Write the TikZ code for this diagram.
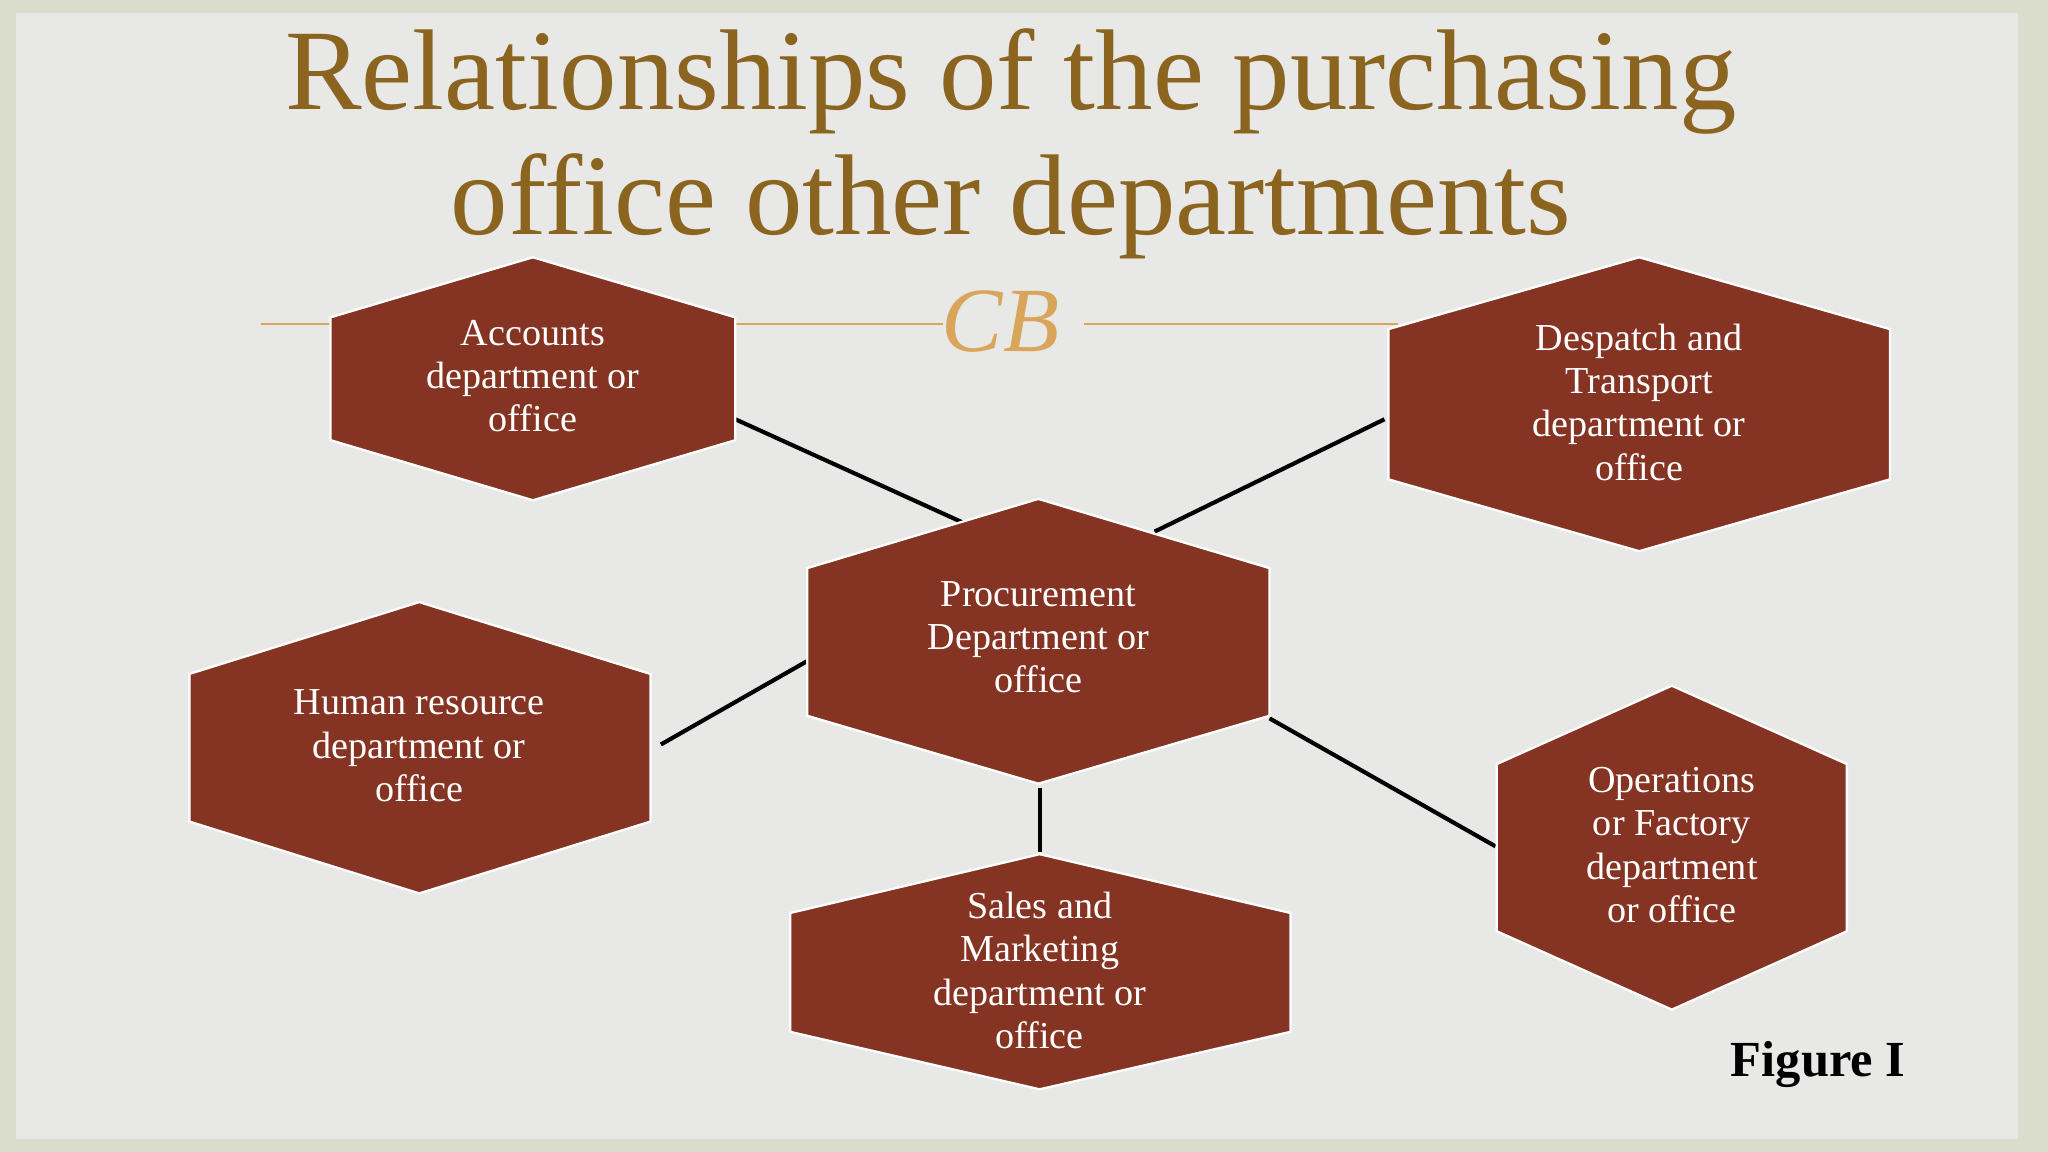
\documentclass[tikz,border=0pt]{standalone}
\usepackage{fontspec}
\setmainfont{Liberation Serif}
\definecolor{hexred}{HTML}{853322}
\definecolor{gold}{HTML}{8B6420}
\definecolor{lgold}{HTML}{D9A55A}
\definecolor{bgc}{HTML}{E8E8E6}
\definecolor{edge}{HTML}{DADDCB}
\tikzset{
 hex/.style={fill=hexred,draw=white,line width=0.5pt},
 lab/.style={text=white,align=center,font=\fontsize{8.3}{9.4}\selectfont},
 conn/.style={draw=black,line width=0.9pt}
}
\begin{document}
\begin{tikzpicture}[x=0.01cm,y=-0.01cm]
\fill[edge] (0,0) rectangle (1568,882);
\fill[bgc] (12,10) rectangle (1545,872);
\useasboundingbox (0,0) rectangle (1568,882);
% title
\node[text=gold,font=\fontsize{25}{30}\selectfont] (t1) at (774,62) {Relationships of the purchasing};
\node[text=gold,font=\fontsize{25}{30}\selectfont] (t2) at (774,158) {office other departments};
% decorative line
\draw[lgold,line width=0.6pt] (200,248) -- (722,248);
\draw[lgold,line width=0.6pt] (830,248) -- (1070,248);
\node[text=lgold,font=\fontsize{20}{24}\itshape\selectfont] (orn) at (766,246) {\textit{CB}};
% connectors coordinates
\coordinate (a1) at (563,321); \coordinate (p1) at (737,400);
\coordinate (d1) at (1060,321); \coordinate (p2) at (884,407);
\coordinate (h1) at (506,570); \coordinate (p3) at (620,505);
\coordinate (s1) at (796,652); \coordinate (p4) at (796,603);
\coordinate (o1) at (1145,648); \coordinate (p5) at (972,550);
\draw[conn] (a1) -- (p1);
\draw[conn] (p2) -- (d1);
\draw[conn] (p3) -- (h1);
\draw[conn] (p4) -- (s1);
\draw[conn] (p5) -- (o1);
% hexagons
\draw[hex] (408,197)--(563,243)--(563,337)--(408,383)--(253,337)--(253,243)--cycle;
\draw[hex] (1255,197)--(1447,252)--(1447,367)--(1255,422)--(1063,367)--(1063,252)--cycle;
\draw[hex] (795,382)--(972,435)--(972,548)--(795,600)--(618,548)--(618,435)--cycle;
\draw[hex] (321,461)--(498,516)--(498,629)--(321,684)--(145,629)--(145,516)--cycle;
\draw[hex] (796,654)--(988,699)--(988,790)--(796,834)--(605,790)--(605,699)--cycle;
\draw[hex] (1280,525)--(1414,585)--(1414,713)--(1280,773)--(1146,713)--(1146,585)--cycle;
\node[lab] (acc) at (408,288) {Accounts\\department or\\office};
\node[lab] (des) at (1255,308) {Despatch and\\Transport\\department or\\office};
\node[lab] (pro) at (795,488) {Procurement\\Department or\\office};
\node[lab] (hum) at (321,571) {Human resource\\department or\\office};
\node[lab] (sal) at (796,743) {Sales and\\Marketing\\department or\\office};
\node[lab] (ope) at (1280,647) {Operations\\or Factory\\department\\or office};
\node[font=\bfseries\fontsize{11}{13}\selectfont] (fig) at (1392,815) {Figure I};
\end{tikzpicture}
\end{document}
